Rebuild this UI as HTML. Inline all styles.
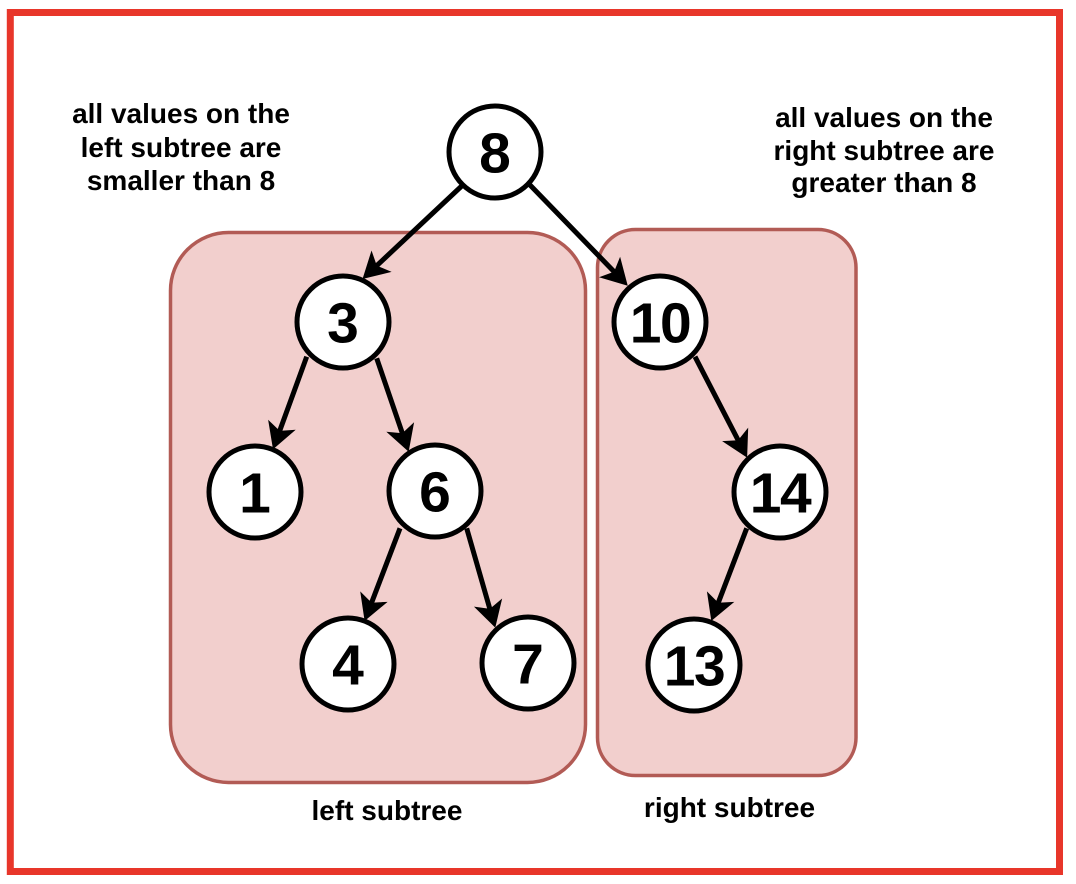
<!DOCTYPE html>
<html>
<head>
<meta charset="utf-8">
<style>
  html, body { margin: 0; padding: 0; background: #ffffff; }
  svg { display: block; }
  text { font-family: "Liberation Sans", Arial, Helvetica, sans-serif; font-weight: bold; fill: #000; }
</style>
</head>
<body>
<svg width="1076" height="884" viewBox="0 0 1076 884" xmlns="http://www.w3.org/2000/svg">
  <defs>
    <marker id="ah" markerUnits="userSpaceOnUse" orient="auto" refX="0" refY="0" markerWidth="40" markerHeight="40" overflow="visible">
      <path d="M18,0 L-6,-13.5 L0,0 L-6,13.5 Z" fill="#000" stroke="#000" stroke-width="1" stroke-linejoin="miter"/>
    </marker>
  </defs>

  <rect x="0" y="0" width="1076" height="884" fill="#ffffff"/>

  <!-- outer red frame -->
  <rect x="10.3" y="12.5" width="1049.2" height="859" fill="none" stroke="#e8362a" stroke-width="7"/>

  <!-- subtree boxes -->
  <rect x="170.5" y="232.5" width="415" height="550" rx="58" ry="58" fill="#f2cfcd" stroke="#b25b55" stroke-width="3.5"/>
  <rect x="597.5" y="229.5" width="258.5" height="546" rx="38" ry="38" fill="#f2cfcd" stroke="#b25b55" stroke-width="3.5"/>

  <!-- connectors -->
  <g stroke="#000" stroke-width="5" fill="none" marker-end="url(#ah)">
    <line x1="461.7" y1="186" x2="376.4" y2="266.0"/>
    <line x1="530" y1="185" x2="614.5" y2="272.1"/>
    <line x1="306.7" y1="356.7" x2="279.5" y2="431.4"/>
    <line x1="376.7" y1="358.3" x2="402.5" y2="433.7"/>
    <line x1="400" y1="528.3" x2="371.4" y2="603.2"/>
    <line x1="466.7" y1="528.3" x2="490.0" y2="609.4"/>
    <line x1="695" y1="356.7" x2="738.4" y2="440.7"/>
    <line x1="746.7" y1="528.3" x2="718.1" y2="603.2"/>
  </g>

  <!-- nodes -->
  <g fill="#ffffff" stroke="#000" stroke-width="5">
    <circle cx="495" cy="152" r="46"/>
    <circle cx="343" cy="322" r="46"/>
    <circle cx="660" cy="322" r="46"/>
    <circle cx="255" cy="492" r="46"/>
    <circle cx="435" cy="491" r="46"/>
    <circle cx="780" cy="492" r="46"/>
    <circle cx="348" cy="664" r="46"/>
    <circle cx="528" cy="663" r="46"/>
    <circle cx="694" cy="665" r="46"/>
  </g>

  <g font-size="57" text-anchor="middle">
    <text x="495" y="172.5">8</text>
    <text x="343" y="342.5">3</text>
    <text x="660" y="342.5" letter-spacing="-1.5">10</text>
    <text x="255" y="512.5">1</text>
    <text x="435" y="511.5">6</text>
    <text x="780" y="512.5" letter-spacing="-1.5">14</text>
    <text x="348" y="684.5">4</text>
    <text x="528" y="683.5">7</text>
    <text x="694" y="685.5" letter-spacing="-1.5">13</text>
  </g>

  <!-- annotations -->
  <g font-size="28" text-anchor="middle">
    <text x="181" y="123">all values on the</text>
    <text x="181" y="157">left subtree are</text>
    <text x="181" y="190">smaller than 8</text>

    <text x="884" y="127">all values on the</text>
    <text x="884" y="160">right subtree are</text>
    <text x="884" y="192">greater than 8</text>

    <text x="387" y="820">left subtree</text>
    <text x="729.5" y="817">right subtree</text>
  </g>
</svg>
</body>
</html>
